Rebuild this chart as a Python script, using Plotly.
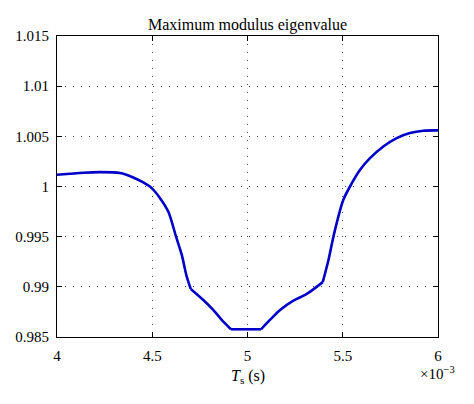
import plotly.graph_objects as go

# Sampling period Ts (in units of 1e-3 s) and maximum modulus eigenvalue
ts = [4.000, 4.068, 4.138, 4.226, 4.331, 4.400, 4.453, 4.497, 4.541,
      4.584, 4.625, 4.655, 4.680, 4.702,
      4.768, 4.821, 4.873, 4.913, 5.071,
      5.118, 5.171, 5.241, 5.311, 5.395,
      5.425, 5.451, 5.477, 5.503, 5.538, 5.591, 5.643, 5.713, 5.783, 5.853,
      5.923, 6.000]
eig = [1.00117, 1.00127, 1.00137, 1.00143, 1.00134, 1.00090, 1.00040, 0.99984,
       0.99884, 0.99750, 0.99500, 0.99318, 0.99110, 0.98979,
       0.98869, 0.98769, 0.98653, 0.98577, 0.98577,
       0.98670, 0.98769, 0.98862, 0.98929, 0.99047,
       0.99268, 0.99500, 0.99700, 0.99867, 1.00000, 1.00167, 1.00283, 1.00399,
       1.00483, 1.00533, 1.00556, 1.00559]

# indices where the curve has sharp corners (segments drawn separately)
kinks = [0, 13, 17, 18, 23, 35]

x_ticks = [4, 4.5, 5, 5.5, 6]
x_tick_labels = ["4", "4.5", "5", "5.5", "6"]
y_ticks = [0.985, 0.99, 0.995, 1.0, 1.005, 1.01, 1.015]
y_tick_labels = ["0.985", "0.99", "0.995", "1", "1.005", "1.01", "1.015"]

FONT = "Liberation Serif, DejaVu Serif, Times New Roman, serif"

fig = go.Figure()
for a, b in zip(kinks[:-1], kinks[1:]):
    fig.add_trace(go.Scatter(x=ts[a:b + 1], y=eig[a:b + 1], mode="lines",
                             line=dict(color="#0000c8", width=2.6,
                                       shape="spline", smoothing=0.8),
                             showlegend=False, hoverinfo="x+y"))

axis_common = dict(
    showline=True, linecolor="black", linewidth=1, mirror="ticks",
    ticks="inside", ticklen=5, tickcolor="black", tickwidth=1,
    showgrid=True, gridcolor="#444444", gridwidth=1, griddash="1px,7px",
    zeroline=False,
    tickfont=dict(family=FONT, size=15, color="black"),
)

fig.update_xaxes(range=[4, 6], tickvals=x_ticks, ticktext=x_tick_labels,
                 ticklabelstandoff=5, **axis_common)
fig.update_yaxes(range=[0.985, 1.015], tickvals=y_ticks, ticktext=y_tick_labels,
                 ticklabelstandoff=4, **axis_common)

fig.update_layout(
    width=474, height=404,
    margin=dict(l=57, r=36, t=36, b=67),
    paper_bgcolor="white", plot_bgcolor="white",
    font=dict(family=FONT, color="black"),
    title=dict(text="Maximum modulus eigenvalue", x=0.5, xanchor="center",
               xref="paper", yref="container", y=1 - 24 / 404,
               yanchor="middle", font=dict(family=FONT, size=16, color="black")),
    annotations=[
        dict(text="×10<sup>−3</sup>", xref="paper", yref="paper",
             x=1.05, y=-0.118, xanchor="right", yanchor="middle",
             showarrow=False, font=dict(family=FONT, size=15, color="black")),
        dict(text="<i>T</i><sub>s</sub> (s)", xref="paper", yref="paper",
             x=0.5, y=-0.13, xanchor="center", yanchor="middle",
             showarrow=False, font=dict(family=FONT, size=16, color="black")),
    ],
)

fig.write_html("out.html")
